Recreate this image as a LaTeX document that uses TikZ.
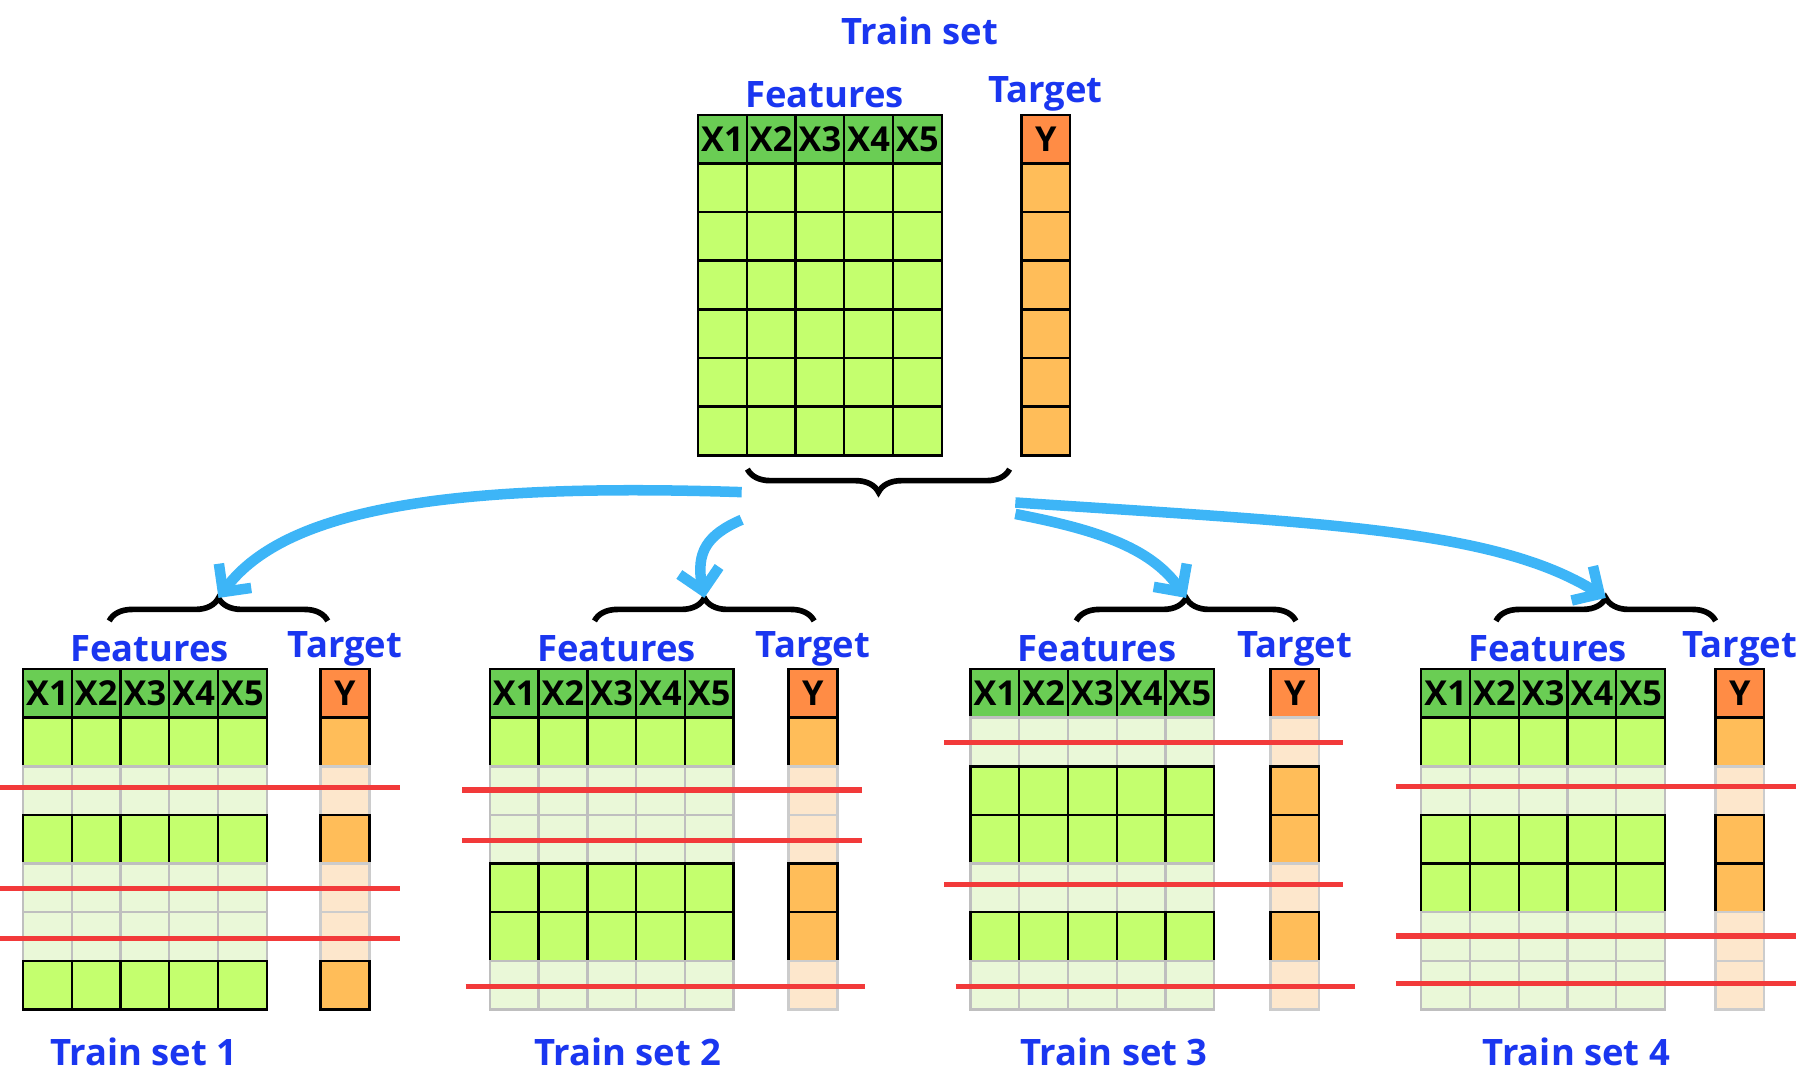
\documentclass[tikz,border=0pt]{standalone}
\usepackage{fontspec}
\setmainfont{Open Sans}
\usetikzlibrary{decorations.pathreplacing, arrows.meta}
\definecolor{hgreen}{HTML}{6ACD54}
\definecolor{cgreen}{HTML}{C4FF6E}
\definecolor{fgreen}{HTML}{EAF8D8}
\definecolor{horange}{HTML}{FF8C45}
\definecolor{corange}{HTML}{FFBD59}
\definecolor{forange}{HTML}{FDE7CC}
\definecolor{lblue}{HTML}{1A36F0}
\definecolor{arr}{HTML}{3DB5F7}
\definecolor{cut}{HTML}{F23A3A}

\tikzset{
  cell/.style={draw=black, line width=0.6pt, minimum width=0.424cm, minimum height=0.423cm, inner sep=0pt, font=\fontsize{8.5}{9}\bfseries},
  hdr/.style={cell, fill=hgreen},
  on/.style={cell, fill=cgreen},
  off/.style={cell, draw=black!25, fill=fgreen},
  yhdr/.style={cell, fill=horange},
  yon/.style={cell, fill=corange},
  yoff/.style={cell, draw=black!20, fill=forange},
  lbl/.style={text=lblue, font=\fontsize{9}{10}\bfseries, inner sep=0pt},
  brace/.style={decorate, decoration={brace, amplitude=0.2cm}, line width=1.4pt},
  cutline/.style={draw=cut, line width=1.3pt},
  flow/.style={draw=arr, line width=2.6pt, -{Straight Barb[length=5pt]}}
}

% #1 left x, #2 target x, #3 row pattern, #4 label, #5 label x
\newcommand\trainset[5]{%
  \foreach \c [count=\i from 0] in {X1,X2,X3,X4,X5}
    \node[hdr] at (#1+\i*42.4+21.2, 603) {\c};
  \node[yhdr] at (#2+21, 603) {Y};
  \foreach \a [count=\r] in {#3} {
    \ifnum\a=1 \def\st{on}\def\yst{yon}\else\def\st{off}\def\yst{yoff}\fi
    \foreach \i in {0,...,4}
      \node[\st] at (#1+\i*42.4+21.2, 603+\r*42.3) {};
    \node[\yst] at (#2+21, 603+\r*42.3) {};
  }
  \node[lbl] at (#1+110, 564) {Features};
  \node[lbl] at (#2+21, 564) {Target};
  \node[lbl] at (#5, 915) {#4};
}

\begin{document}
\begin{tikzpicture}[x=0.01cm, y=-0.01cm]
\useasboundingbox (0,0) rectangle (1568,940);

% top table
\node[lbl] (title) at (800,27) {Train set};
\node[lbl] (feat) at (717,82) {Features};
\node[lbl] (targ) at (909,82) {Target};
\foreach \c [count=\i from 0] in {X1,X2,X3,X4,X5}
  \node[hdr] at (607+\i*42.4+21.2, 121) {\c};
\node[yhdr] at (909.5,121) {Y};
\foreach \r in {1,...,6} {
  \foreach \i in {0,...,4}
    \node[on] at (607+\i*42.4+21.2, 121+\r*42.3) {};
  \node[yon] at (909.5, 121+\r*42.3) {};
}
\draw[brace, decoration={mirror}] (650,408) -- (878,408) coordinate[midway] (tb);

% sub sets
\trainset{20}{279}{1,0,1,0,0,1}{Train set 1}{125}
\trainset{426}{686}{1,0,0,1,1,0}{Train set 2}{546}
\trainset{844}{1105}{0,1,1,0,1,0}{Train set 3}{969}
\trainset{1236}{1492}{1,0,1,1,0,0}{Train set 4}{1371}

\draw[brace] (95,540) -- (285,540) coordinate[midway,yshift=0.2cm] (b1);
\draw[brace] (517,540) -- (708,540) coordinate[midway,yshift=0.2cm] (b2);
\draw[brace] (936,540) -- (1127,540) coordinate[midway,yshift=0.2cm] (b3);
\draw[brace] (1301,540) -- (1492,540) coordinate[midway,yshift=0.2cm] (b4);

% cut lines
\draw[cutline] (0,685) -- (348,685) (0,773) -- (348,773) (0,816) -- (348,816);
\draw[cutline] (402,687) -- (750,687) (402,731) -- (750,731) (405,858) -- (752,858);
\draw[cutline] (821,646) -- (1168,646) (821,769) -- (1168,769) (831,858) -- (1178,858);
\draw[cutline] (1214,684) -- (1562,684) (1214,814) -- (1562,814) (1214,855) -- (1562,855);

% arrows
\coordinate (s1) at (645,428);
\coordinate (s2) at (645,452);
\coordinate (s3) at (883,447);
\coordinate (s4) at (883,437);
\draw[flow] (s1) .. controls (400,420) and (250,440) .. (b1);
\draw[flow] (s2) .. controls (615,465) and (605,480) .. (b2);
\draw[flow] (s3) .. controls (950,460) and (1000,475) .. (b3);
\draw[flow] (s4) .. controls (1150,455) and (1300,460) .. (b4);
\end{tikzpicture}
\end{document}
